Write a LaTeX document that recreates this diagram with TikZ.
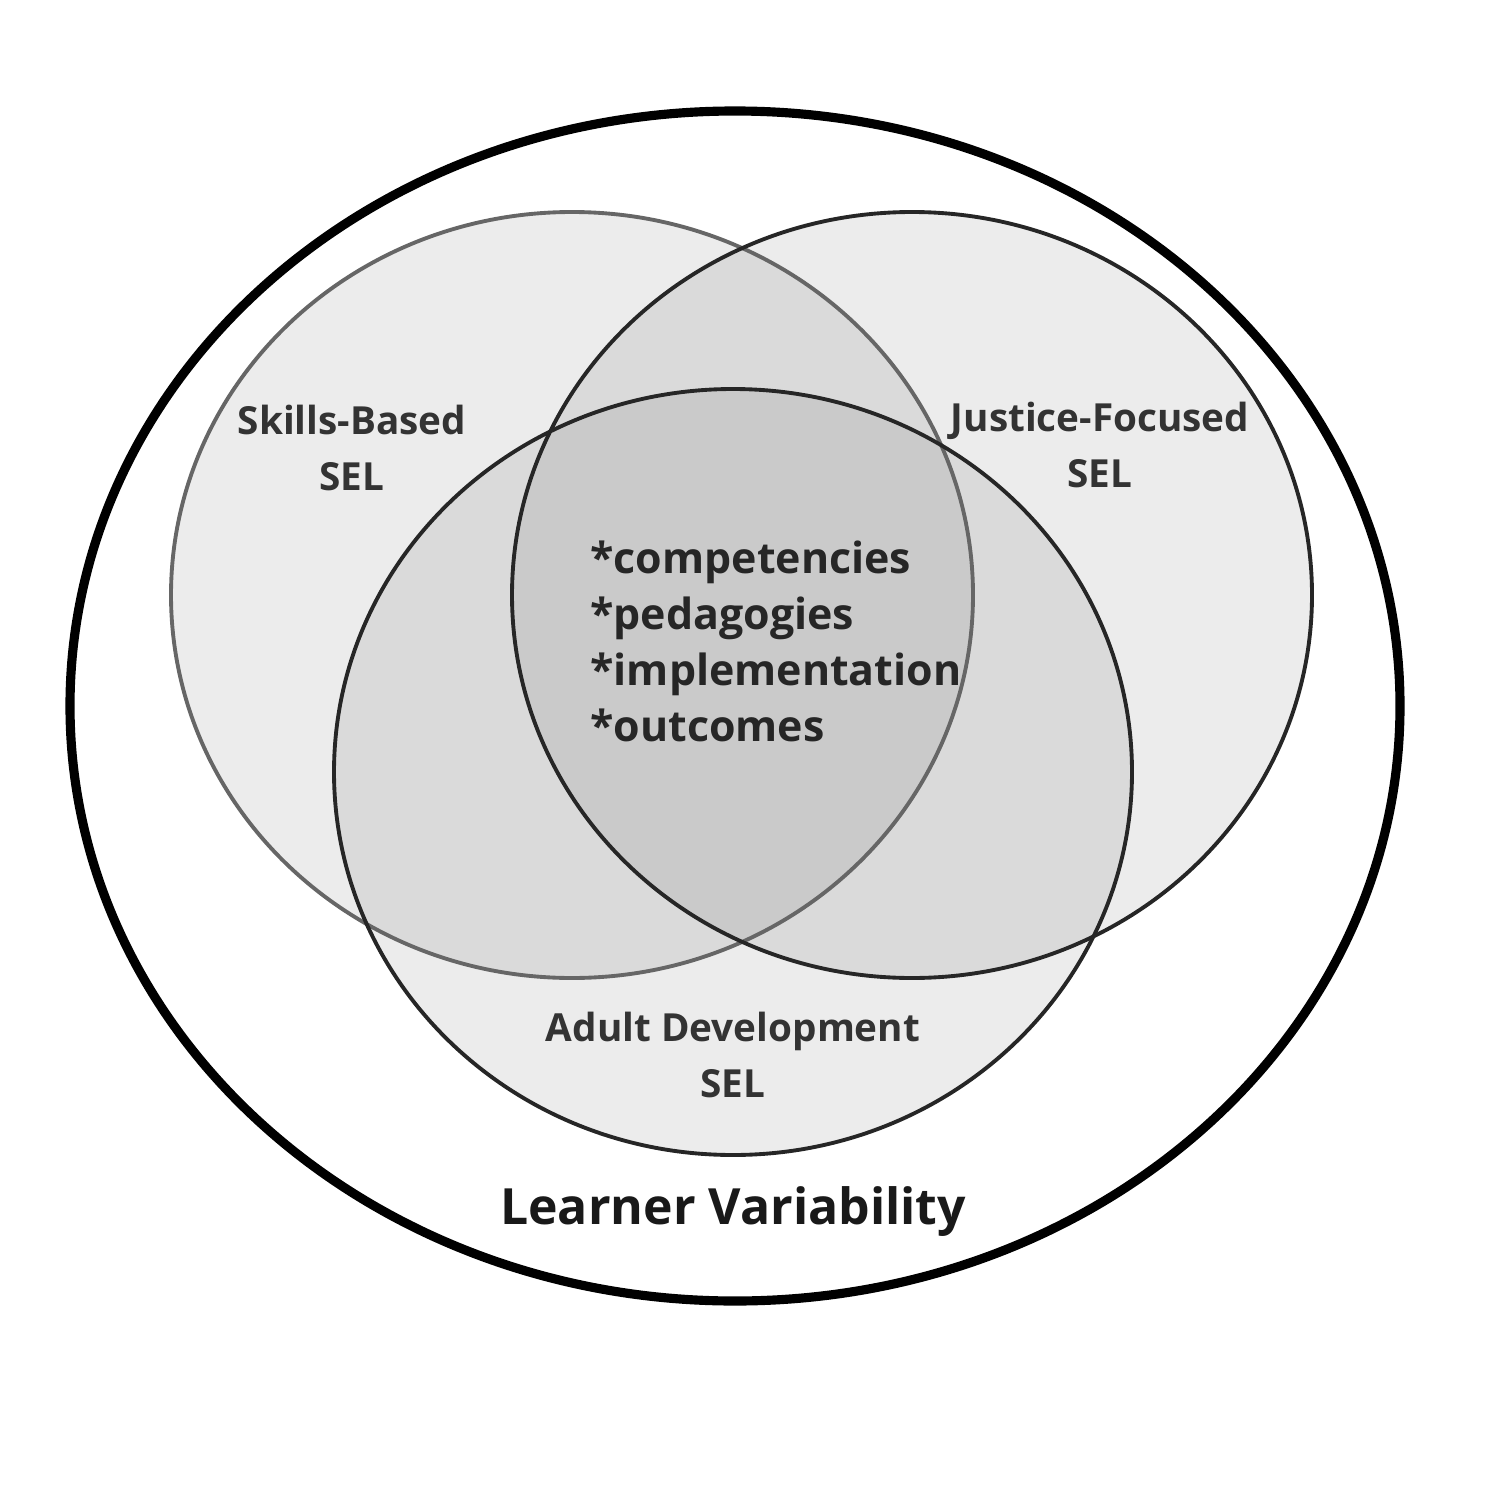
\documentclass[tikz,border=0pt]{standalone}
\usepackage{fontspec}
\setmainfont{Open Sans}
\begin{document}
\begin{tikzpicture}[x=0.01cm,y=-0.01cm,
  venn/.style={line width=1.1pt,draw=black!85},
  lab/.style={align=center,font=\fontsize{11}{16}\selectfont\bfseries,text=black!80}]
\useasboundingbox (0,0) rectangle (1500,1500);
\fill[black,opacity=0.075] (572,595) ellipse [x radius=401,y radius=383];
\fill[black,opacity=0.075] (912,595) ellipse [x radius=400,y radius=383];
\fill[black,opacity=0.075] (733,772) ellipse [x radius=399,y radius=383];
\draw[line width=2.6pt] (735,706) ellipse [x radius=665,y radius=595];
\draw[venn,draw=black!60] (572,595) ellipse [x radius=401,y radius=383];
\draw[venn] (912,595) ellipse [x radius=400,y radius=383];
\draw[venn] (733,772) ellipse [x radius=399,y radius=383];
\node[lab] (sk) at (352,448) {Skills-Based\\SEL};
\node[lab] (ju) at (1100,445) {Justice-Focused\\SEL};
\node[lab] (ad) at (733,1055) {Adult Development\\SEL};
\node[align=left,anchor=north west,font=\fontsize{12.2}{16}\selectfont\bfseries,text=black!85] (ctr) at (578,528)
  {*competencies\\*pedagogies\\*implementation\\*outcomes};
\node[font=\fontsize{14.2}{17}\selectfont\bfseries,text=black!90] (lv) at (733,1212) {Learner Variability};
\end{tikzpicture}
\end{document}
